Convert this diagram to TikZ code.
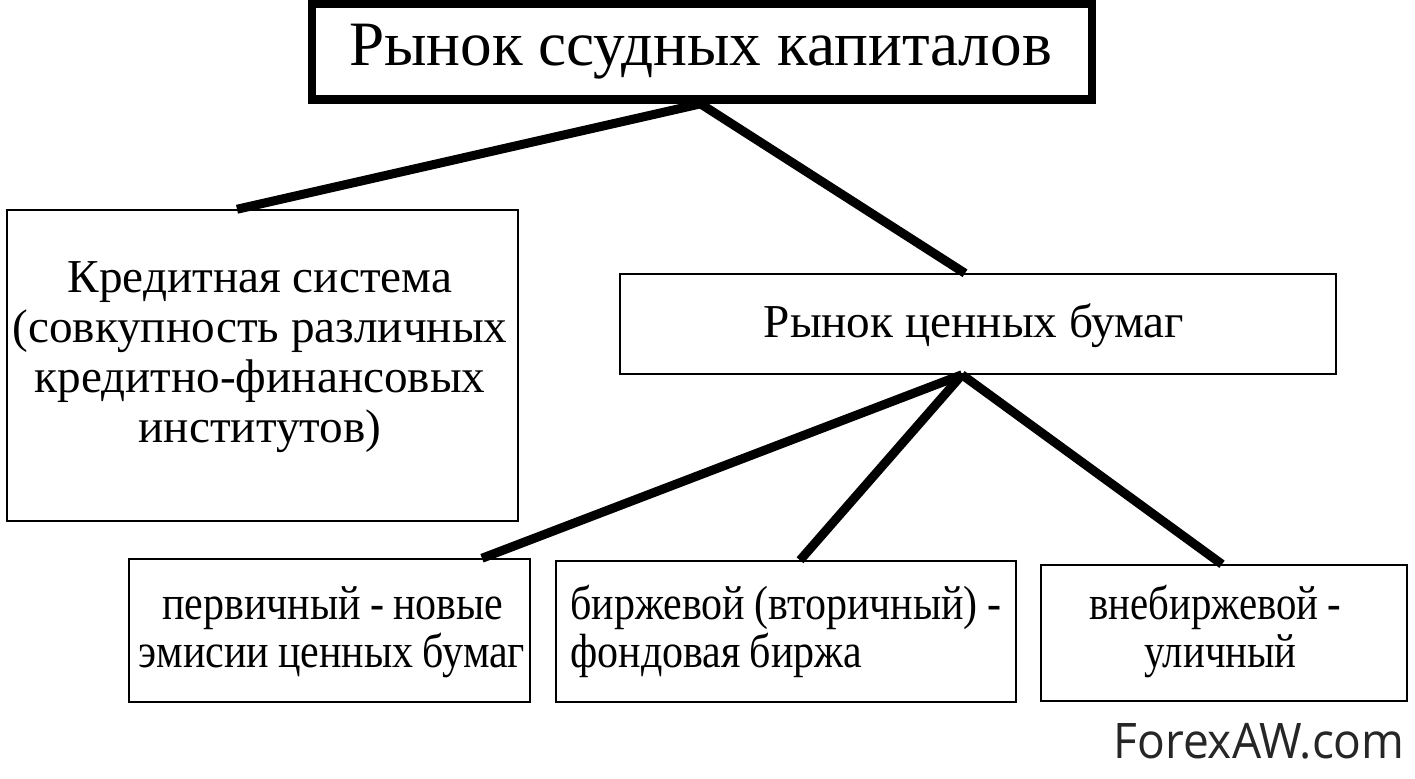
\documentclass[tikz,border=0pt]{standalone}
\usepackage{fontspec}
\setmainfont{Liberation Serif}
\newfontfamily\normserif{Liberation Serif}
\newfontfamily\condserif{Liberation Serif}[FakeStretch=0.85, WordSpace=0.85]
\newfontfamily\semiserif{Liberation Serif}[FakeStretch=0.875, WordSpace=0.875]
\newfontfamily\wmfont{Open Sans}[FakeStretch=0.94]
\usetikzlibrary{calc}
\tikzset{
  thinbox/.style={draw=black, line width=0.75pt, fill=white, inner sep=0pt},
  thickbox/.style={draw=black, line width=4.25pt, fill=white, inner sep=0pt},
  conn/.style={line width=4.5pt, black},
  toptext/.style={inner sep=0pt, anchor=base, font=\normserif\fontsize{31.6pt}{34pt}\selectfont},
  midtext/.style={inner sep=0pt, anchor=base, font=\normserif\fontsize{23.6pt}{26pt}\selectfont},
  lowtext/.style={inner sep=0pt, anchor=base, font=\condserif\fontsize{24pt}{26pt}\selectfont},
  lowtextw/.style={inner sep=0pt, anchor=base, font=\semiserif\fontsize{24pt}{26pt}\selectfont},
}
\begin{document}
\begin{tikzpicture}[x=0.5pt,y=-0.5pt]
\useasboundingbox[fill=white] (0,0) rectangle (1415,778);
% boxes
\node[thickbox, minimum width=390pt, minimum height=47.75pt] (top) at (702,51.5) {};
\node[thinbox, minimum width=255.5pt, minimum height=155.5pt] (cred) at (262.5,365.5) {};
\node[thinbox, minimum width=358pt, minimum height=50pt] (sec) at (978,324) {};
\node[thinbox, minimum width=200.5pt, minimum height=71.5pt] (prim) at (329.5,630.5) {};
\node[thinbox, minimum width=230pt, minimum height=70.5pt] (exch) at (786,631.5) {};
\node[thinbox, minimum width=183pt, minimum height=68pt] (otc) at (1224,633) {};
% texts
\node[toptext] (topt) at (700.5,65) {Рынок ссудных капиталов};
\node[midtext] (cred1) at (260,292) {Кредитная система};
\node[midtext] (cred2) at (260,342) {(совкупность различных};
\node[midtext] (cred3) at (260,392) {кредитно-финансовых};
\node[midtext] (cred4) at (260,442) {институтов)};
\node[midtext] (sect) at (974,337) {Рынок ценных бумаг};
\node[lowtextw] (prim1) at (333,619) {первичный - новые};
\node[lowtextw] (prim2) at (332,667) {эмисии ценных бумаг};
\node[lowtextw, anchor=base west] (exch1) at (570,619) {биржевой (вторичный) -};
\node[lowtextw, anchor=base west] (exch2) at (570,667) {фондовая биржа};
\node[lowtext] (otc1) at (1215,619) {внебиржевой -};
\node[lowtext] (otc2) at (1220.5,667) {уличный};
% connectors
\draw[conn] (top.south) -- ([xshift=-12.75pt]cred.north);
\draw[conn] ([xshift=-1pt]top.south) -- ([xshift=-6.5pt]sec.north);
\draw[conn] ([xshift=-8pt]sec.south) -- ([xshift=76.25pt]prim.north);
\draw[conn] ([xshift=-8pt]sec.south) -- ([xshift=7pt]exch.north);
\draw[conn] ([xshift=-8pt]sec.south) -- ([xshift=-1pt]otc.north);
% watermark
\node[anchor=base east, inner sep=0pt, text=black!85,
  font=\wmfont\fontsize{24.5pt}{28pt}\selectfont] (wm) at (1405,758)
  {ForexAW.com};
\end{tikzpicture}
\end{document}
